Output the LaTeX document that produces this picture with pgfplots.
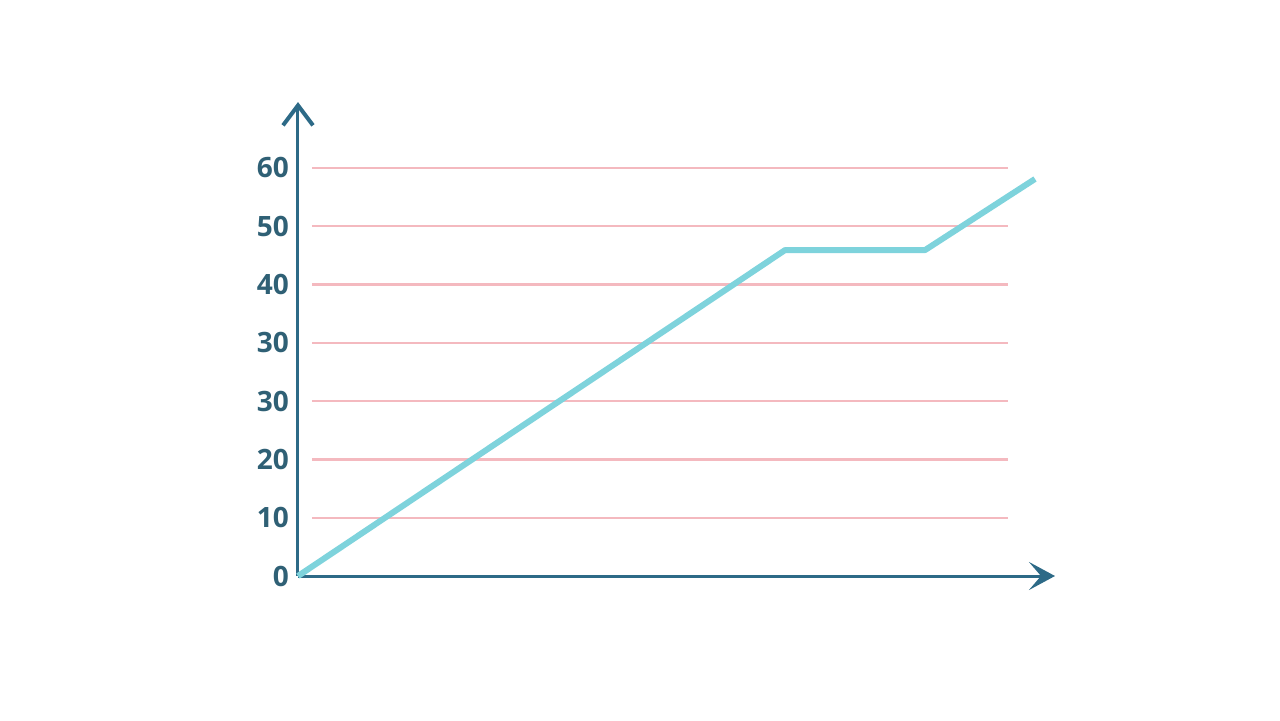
\documentclass[border=0pt]{standalone}
\usepackage{fontspec}
\setmainfont{Open Sans}
\usepackage{pgfplots}
\pgfplotsset{compat=1.18}
\usetikzlibrary{arrows.meta}
\definecolor{axisblue}{HTML}{2D6A87}
\definecolor{labelblue}{HTML}{2F6075}
\definecolor{gridpink}{HTML}{F4B9BF}
\definecolor{linecyan}{HTML}{7ED3DC}
\begin{document}
\begin{tikzpicture}
\begin{axis}[
    x=0.5pt, y=2.915pt,
    xmin=0, xmax=757,
    ymin=0, ymax=81.3,
    axis x line=bottom,
    axis y line=left,
    axis line style={axisblue, line width=1.5pt},
    x axis line style={-{Stealth[length=13pt,width=14pt,inset=6pt]}},
    y axis line style={-{Straight Barb[length=10pt,width=15pt,line width=2pt]}},
    xtick=\empty,
    ytick={0,10,20,30,40,50,60,70},
    yticklabels={0,10,20,30,30,40,50,60},
    major tick length=0pt,
    tick label style={font=\fontsize{14}{14}\selectfont\bfseries, text=labelblue},
    yticklabel style={xshift=-1pt},
    /pgf/number format/assume math mode=true,
    clip=false,
]
\draw[gridpink, line width=1.2pt] (axis cs:14,10) -- (axis cs:710,10);
\draw[gridpink, line width=1.2pt] (axis cs:14,20) -- (axis cs:710,20);
\draw[gridpink, line width=1.2pt] (axis cs:14,30) -- (axis cs:710,30);
\draw[gridpink, line width=1.2pt] (axis cs:14,40) -- (axis cs:710,40);
\draw[gridpink, line width=1.2pt] (axis cs:14,50) -- (axis cs:710,50);
\draw[gridpink, line width=1.2pt] (axis cs:14,60) -- (axis cs:710,60);
\draw[gridpink, line width=1.2pt] (axis cs:14,70) -- (axis cs:710,70);
\addplot[linecyan, line width=3pt, line join=round] coordinates {
    (0,0) (487,55.9) (627,55.9) (737,68.1)
};
\coordinate (bl) at (axis cs:-298,-24.7);
\coordinate (tr) at (axis cs:982,98.8);
\end{axis}
\path (bl) rectangle (tr);
\end{tikzpicture}
\end{document}
